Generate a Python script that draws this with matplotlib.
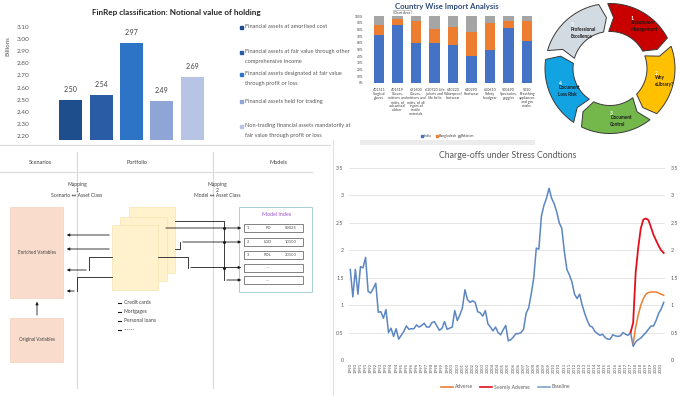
import matplotlib
matplotlib.use("Agg")
import matplotlib.pyplot as plt
import matplotlib.patches as mpatches
import numpy as np

plt.rcParams["font.family"] = ["Lato", "DejaVu Sans"]

W, H = 680, 396

# ---------------- data ----------------
finrep_values = [2.50, 2.54, 2.97, 2.49, 2.69]
finrep_labels = [
    "Financial assets at amortised cost",
    "Financial assets at fair value through other\ncomprehensive income",
    "Financial assets designated at fair value\nthrough profit or loss",
    "Financial assets held for trading",
    "Non-trading financial assets mandatorily at\nfair value through profit or loss",
]
finrep_colors = ["#1f4e8c", "#2a5ca6", "#2e74c6", "#8ea5d6", "#b7c4e4"]
finrep_ticks = [2.20, 2.30, 2.40, 2.50, 2.60, 2.70, 2.80, 2.90, 3.00, 3.10]

import_products = [
    "401511\nSurgical\ngloves",
    "401519\nGloves,\nmittens and\nmitts, of\nvulcanised\nrubber",
    "621600\nGloves,\nmittens and\nmitts, of all\ntypes of\ntextile\nmaterials",
    "630720 Life\njackets and\nlife belts",
    "640220\nWaterproof\nfootwear",
    "640290\nFootwear",
    "650610\nSafety\nheadgear",
    "900490\nSpectacles,\ngoggles",
    "9020\nBreathing\nappliances\nand gas\nmasks",
]
india = [72, 86, 60, 60, 56, 40, 50, 82, 62]
bangladesh = [15, 9, 32, 20, 28, 36, 39, 11, 30]
pakistan = [13, 5, 8, 20, 16, 24, 11, 7, 8]
import_ticks = [0, 10, 20, 30, 40, 50, 60, 70, 80, 90, 100]

cycle_numbers = ["1.", "2.", "3.", "4.", "5."]
cycle_steps = ["Stakeholder\nManagement", "Why\neLibrary?", "Document\nControl",
               "Document\nLoss Risk", "Professional\nExcellence"]
cycle_colors = ["#c80000", "#ffc000", "#74b84c", "#12a3e3", "#d3dbe2"]

quarter_years = [y for y in range(1990, 2021) for _ in range(4)]
baseline = [
    1.65, 1.15, 1.65, 1.2, 1.7, 1.68, 1.87, 1.25, 1.22, 1.3,
    1.4, 0.87, 0.88, 0.76, 0.92, 0.5, 0.58, 0.43, 0.57, 0.38,
    0.45, 0.52, 0.62, 0.56, 0.57, 0.57, 0.64, 0.6, 0.63, 0.67,
    0.6, 0.6, 0.68, 0.7, 0.62, 0.54, 0.58, 0.7, 0.56, 0.58,
    0.6, 0.9, 0.72, 0.82, 0.95, 1.28, 1.1, 1.05, 1.08, 1.05,
    0.88, 0.86, 0.8, 0.9, 0.66, 0.6, 0.53, 0.6, 0.5, 0.46,
    0.55, 0.63, 0.35, 0.37, 0.42, 0.48, 0.48, 0.5, 0.56, 0.85,
    0.95, 1.2, 1.5, 2.04, 2.02, 2.62, 2.82, 2.95, 3.13, 2.95,
    2.85, 2.7, 2.5, 2.4, 1.98, 1.65, 1.55, 1.42, 1.2, 1.12,
    1.2, 1.0, 0.85, 0.72, 0.62, 0.6, 0.52, 0.48, 0.45, 0.47,
    0.41, 0.38, 0.38, 0.46, 0.44, 0.43, 0.44, 0.5, 0.47, 0.45,
    0.5, 0.25, 0.33, 0.37, 0.4, 0.45, 0.5, 0.56, 0.62, 0.62,
    0.72, 0.85, 0.93, 1.05,
]
adverse = [0.3, 0.6, 0.82, 1.0, 1.12, 1.2, 1.23, 1.24, 1.24, 1.24, 1.22, 1.2, 1.18]
severe = [0.5, 0.68, 1.6, 2.05, 2.4, 2.56, 2.58, 2.55, 2.42, 2.28, 2.18, 2.08, 2.0, 1.95]
chargeoff_ticks = [0, 0.5, 1, 1.5, 2, 2.5, 3, 3.5]

fig = plt.figure(figsize=(W / 100, H / 100), dpi=100)
fig.patch.set_facecolor("white")


def px_rect(x0, y0, x1, y1):
    return [x0 / W, 1 - y1 / H, (x1 - x0) / W, (y1 - y0) / H]


def panel(x0, y0, x1, y1):
    ax = fig.add_axes(px_rect(x0, y0, x1, y1))
    ax.set_xlim(x0, x1)
    ax.set_ylim(y1, y0)
    ax.axis("off")
    return ax


# ================= top-left: FinRep bars =================
p1 = panel(0, 0, 352, 140)
p1.text(176, 12, "FinRep classification: Notional value of holding", ha="center",
        va="center", fontsize=5.9, color="#262626", fontweight="bold")
p1.text(8, 46, "Billions", rotation=90, ha="center", va="center", fontsize=4.5,
        color="#595959")
legend_y = [27, 52, 74, 101, 126]
for y, lab, col in zip(legend_y, finrep_labels, finrep_colors):
    p1.add_patch(mpatches.Rectangle((240, y - 1.5), 3, 3, color=col))
    p1.text(245, y - 2.5, lab, ha="left", va="top", fontsize=4.05, color="#595959",
            linespacing=2.0, clip_on=True)

ax1 = fig.add_axes(px_rect(35, 20, 212, 140))
ax1.bar(range(len(finrep_values)), finrep_values, width=0.76, color=finrep_colors)
for i, v in enumerate(finrep_values):
    ax1.text(i, v + 0.085, f"{v:.2f}", ha="center", va="center", fontsize=5,
             color="#404040")
ax1.set_xlim(-1.18, 4.65)
ax1.set_ylim(2.167, 3.158)
ax1.set_yticks(finrep_ticks)
ax1.set_yticklabels([f"{t:.2f}" for t in finrep_ticks])
ax1.set_xticks([])
ax1.tick_params(axis="y", length=0, labelsize=4.6, colors="#595959", pad=4)
for s in ax1.spines.values():
    s.set_visible(False)

# ================= top-middle: Country wise imports =================
p2 = panel(352, 0, 540, 140)
p2.text(447, 6, "Country Wise Import Analysis", ha="center", va="center",
        fontsize=5.6, color="#2f4a78", fontweight="bold")
p2.add_patch(mpatches.Rectangle((393, 10), 18, 6, fc="white", ec="#a0a0a0", lw=0.4))
p2.text(402, 13, "Chart Area", ha="center", va="center", fontsize=2.4, color="#404040")

ax2 = fig.add_axes(px_rect(366, 14, 537, 84))
xs = np.arange(len(india))
ax2.bar(xs, india, width=0.55, color="#4472c4")
ax2.bar(xs, bangladesh, width=0.55, bottom=india, color="#ed7d31")
ax2.bar(xs, pakistan, width=0.55, bottom=np.add(india, bangladesh), color="#a5a5a5")
ax2.set_xlim(-0.70, 8.54)
ax2.set_ylim(-1.5, 103)
ax2.set_yticks(import_ticks)
ax2.set_yticklabels([f"{t}%" for t in import_ticks])
ax2.set_xticks([])
ax2.tick_params(axis="y", length=0, labelsize=2.3, colors="#404040", pad=2)
for s in ax2.spines.values():
    s.set_visible(False)
for i, lab in enumerate(import_products):
    ax2.annotate(lab, (i, 0), xytext=(0, -3.3), textcoords="offset points",
                 ha="center", va="top", fontsize=2.6, color="#404040",
                 linespacing=1.05)
leg_items = [("India", "#4472c4", 421), ("Bangladesh", "#ed7d31", 436),
             ("Pakistan", "#a5a5a5", 458)]
for name, col, x in leg_items:
    p2.add_patch(mpatches.Rectangle((x, 134.8), 2.2, 2.2, color=col))
    p2.text(x + 3, 136, name, ha="left", va="center", fontsize=2.6, color="#404040")

# ================= top-right: cycle diagram =================
p3 = panel(540, 0, 680, 140)
cx, cy, r_in, r_out = 610, 68.5, 37, 65
r_mid = (r_in + r_out) / 2
slot_centres = [60, -12, -84, -156, 132]
span, tip = 64, 6
for num, lab, col, c in zip(cycle_numbers, cycle_steps, cycle_colors, slot_centres):
    a0, a1 = c + span / 2, c - span / 2
    t_out = np.radians(np.linspace(a0, a1, 40))
    pts = [(cx + r_out * np.cos(t), cy - r_out * np.sin(t)) for t in t_out]
    pts.append((cx + r_mid * np.cos(np.radians(a1 - tip)), cy - r_mid * np.sin(np.radians(a1 - tip))))
    pts += [(cx + r_in * np.cos(t), cy - r_in * np.sin(t)) for t in t_out[::-1]]
    pts.append((cx + r_mid * np.cos(np.radians(a0 - tip)), cy - r_mid * np.sin(np.radians(a0 - tip))))
    p3.add_patch(mpatches.Polygon(pts, closed=True, fc=col, ec="#3a3a3a", lw=0.7))
    tx = cx + r_mid * np.cos(np.radians(c))
    ty = cy - r_mid * np.sin(np.radians(c))
    p3.text(tx - 5, ty - 6, num, ha="left", va="center", fontsize=3.6,
            color="white", fontweight="bold")
    p3.text(tx - 5, ty + 2, lab, ha="left", va="center", fontsize=3.3,
            color="#1a1a1a", fontweight="bold", linespacing=1.5)

# ================= bottom-left: mapping diagram =================
p4 = panel(0, 140, 332, 396)
grey = "#d9d9d9"
p4.plot([0, 330], [145, 145], color=grey, lw=0.8)
p4.plot([0, 312], [172, 172], color=grey, lw=0.8)
for x in (77, 213):
    p4.plot([x, x], [152, 388], color=grey, lw=0.8)
txt = dict(ha="center", va="center", color="#404040", fontsize=4)
p4.text(40, 162, "Scenarios", **txt)
p4.text(137, 162, "Portfolio", **txt)
p4.text(278, 162, "Models", **txt)
p4.text(77, 190, "Mapping\n1\nScenario \u2194 Asset Class", linespacing=1.1,
        **{**txt, "fontsize": 3.6})
p4.text(217, 190, "Mapping\n2\nModel \u2194 Asset Class", linespacing=1.1,
        **{**txt, "fontsize": 3.6})

peach = "#f9dccb"
p4.add_patch(mpatches.Rectangle((10, 207), 53, 91, fc=peach, ec="#f4d0bc", lw=0.5))
p4.add_patch(mpatches.Rectangle((10, 318), 53, 44, fc=peach, ec="#f4d0bc", lw=0.5))
p4.text(37, 252, "Enriched Variables", **{**txt, "fontsize": 3.3})
p4.text(37, 340, "Original Variables", **{**txt, "fontsize": 3.3})

arrow = dict(arrowstyle="-|>", color="#1a1a1a", lw=0.6, mutation_scale=4)


def elbow(pts, ax=p4):
    xs_, ys_ = zip(*pts[:-1])
    ax.plot(list(xs_), list(ys_), color="#1a1a1a", lw=0.6)
    ax.annotate("", xy=pts[-1], xytext=pts[-2], arrowprops=arrow)


elbow([(37, 318), (37, 299)])
for rect in [(129, 207, 46, 66), (120, 217, 47, 64), (112, 225, 46, 65)]:
    p4.add_patch(mpatches.Rectangle(rect[:2], rect[2], rect[3], fc="#fff2cc",
                                    ec="#f5e3b0", lw=0.5))

elbow([(112, 235), (64, 235)])
elbow([(112, 249), (64, 249)])
elbow([(112, 257), (89, 257), (89, 270), (64, 270)])
elbow([(112, 277), (77, 277), (77, 291), (64, 291)])

p4.add_patch(mpatches.Rectangle((239, 207), 73, 85, fc="white", ec="#a8cfd6", lw=0.7))
p4.text(277, 214, "Model Index", ha="center", va="center", fontsize=3.8, color="#9b4fc4")
rows_y = [228, 242, 255, 267.5, 280]
row_text = [("1", "PD", "00025"), ("2", "LGD", "10100"), ("3", "PDL", "20100"),
            ("", "....", ""), ("", "....", "")]
for y, (a, b, c) in zip(rows_y, row_text):
    p4.add_patch(mpatches.Rectangle((244, y - 4), 59, 8, fc="white", ec="#6e6e6e", lw=0.6))
    p4.text(247, y, a, ha="left", va="center", fontsize=3, color="#505050")
    p4.text(268, y, b, ha="center", va="center", fontsize=3, color="#505050")
    p4.text(297, y, c, ha="right", va="center", fontsize=3, color="#505050")

p4.plot([175, 224, 224], [221, 221, 280], color="#1a1a1a", lw=0.6)
p4.annotate("", xy=(244, 280), xytext=(224, 280), arrowprops=arrow)
elbow([(163, 228), (244, 228)])
elbow([(175, 249), (180, 249), (180, 242), (244, 242)])
elbow([(158, 257), (188, 257), (188, 267.5), (244, 267.5)])
for y in (228, 242, 267.5):
    p4.plot(224, y, "o", ms=1.2, color="#1a1a1a")

bullets = ["Credit cards", "Mortgages", "Personal loans", "------"]
for i, b in enumerate(bullets):
    y = 303 + 9 * i
    p4.plot([118, 121], [y, y], color="#1a1a1a", lw=0.8)
    p4.text(124, y, b, ha="left", va="center", fontsize=3.6, color="#404040")

# ================= bottom-right: charge-offs =================
p5 = panel(332, 140, 680, 396)
p5.plot([333, 333], [140, 396], color="#d6e6cf", lw=0.8)
p5.add_patch(mpatches.Rectangle((360, 140), 175, 4.5, fc="#ececec", ec="none"))
p5.text(508, 155, "Charge-offs under Stress Condtions", ha="center", va="center",
        fontsize=6.3, color="#595959")

ax5 = fig.add_axes(px_rect(349, 168, 665, 360))
n = len(baseline)
q = np.arange(n)
ax5.plot(q, baseline, color="#5b86c2", lw=1.1, zorder=2)
ax5.plot(q[n - len(adverse):], adverse, color="#ed7d31", lw=1.1, zorder=3)
ax5.plot(q[n - len(severe):], severe, color="#e3101c", lw=1.3, zorder=4)
ax5.set_xlim(-0.5, n - 0.5)
ax5.set_ylim(0, 3.5)
ax5.set_yticks(chargeoff_ticks)
ax5.set_yticklabels([f"{t:g}" for t in chargeoff_ticks])
ax5.tick_params(axis="y", length=0, labelsize=3.8, colors="#595959", pad=4,
                labelright=True)
ax5.grid(axis="y", color="#e0e0e0", lw=0.6)
ax5.set_axisbelow(True)
ax5.set_xticks(q[::2])
ax5.set_xticklabels([str(quarter_years[i]) for i in q[::2]], rotation=90)
ax5.tick_params(axis="x", length=0, labelsize=3.2, colors="#595959", pad=2)
for s in ax5.spines.values():
    s.set_visible(False)

leg = [("Adverse", "#ed7d31", 441), ("Sverely Adverse", "#e3101c", 480),
       ("Baseline", "#7fa3d0", 538)]
for name, col, x in leg:
    p5.plot([x, x + 12], [387, 387], color=col, lw=1.2)
    p5.text(x + 14, 387, name, ha="left", va="center", fontsize=3.6, color="#595959")

fig.savefig("out.png", dpi=100)
